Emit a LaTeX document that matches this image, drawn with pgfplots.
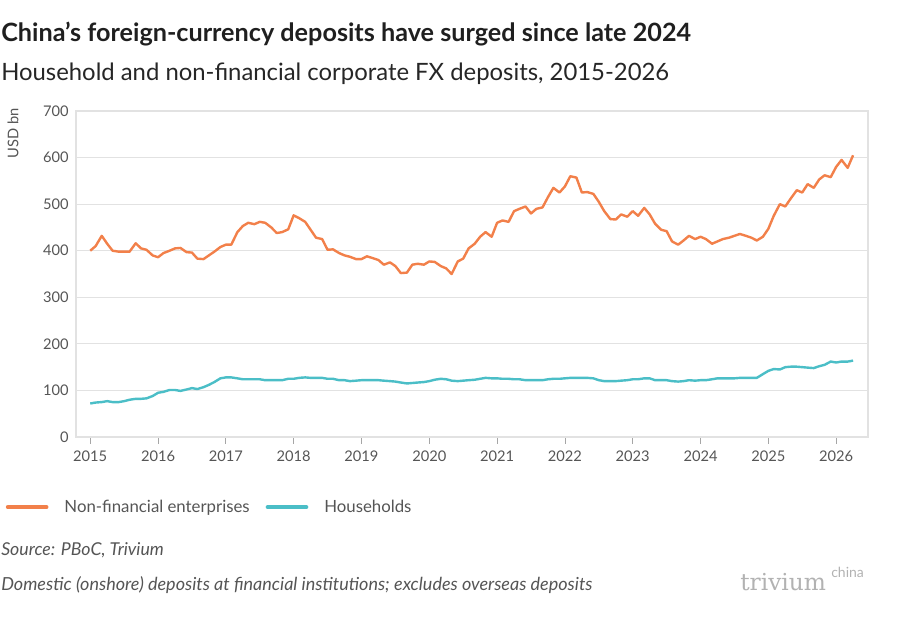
\documentclass[border=0pt]{standalone}
\usepackage{fontspec}
\setmainfont{Lato}
\newfontfamily\logofont{DejaVu Serif}
\usepackage{pgfplots}
\pgfplotsset{compat=1.18}
\definecolor{orng}{RGB}{242,128,74}
\definecolor{teal2}{RGB}{75,190,199}
\definecolor{gridc}{RGB}{226,226,226}
\definecolor{txt}{RGB}{85,85,85}
\begin{document}
\begin{tikzpicture}
\path[use as bounding box] (0,0) rectangle (677.25pt,-464.25pt);
\begin{scope}[x=0.75pt,y=-0.75pt]
\node[anchor=base west,inner sep=0,font=\bfseries\fontsize{18.9}{22}\selectfont,text=black!88] at (1,41) {China’s foreign-currency deposits have surged since late 2024};
\node[anchor=base west,inner sep=0,font=\fontsize{17.9}{21}\selectfont,text=black!85] at (1,80) {Household and non-financial corporate FX deposits, 2015-2026};
\node[rotate=90,anchor=center,inner sep=0,font=\fontsize{11}{13}\selectfont,text=txt] at (13,133) {USD bn};
\node[anchor=base west,inner sep=0,font=\itshape\fontsize{13.3}{15}\selectfont,text=txt] at (1,555) {Source: PBoC, Trivium};
\node[anchor=base west,inner sep=0,font=\itshape\fontsize{13.5}{15}\selectfont,text=txt] at (1,590) {Domestic (onshore) deposits at financial institutions; excludes overseas deposits};
\node[anchor=base west,inner sep=0,font=\logofont\fontsize{17.5}{20}\selectfont,text=black!30] at (740,590) {trivium};
\node[anchor=base west,inner sep=0,font=\fontsize{10.5}{12}\selectfont,text=black!30] at (831,577) {china};
\end{scope}
\begin{axis}[
  at={(57pt,-327.75pt)}, anchor=south west,
  scale only axis, width=594pt, height=244.5pt,
  xmin=2014.79, xmax=2026.47, ymin=0, ymax=700,
  xtick={2015,2016,...,2026}, ytick={0,100,...,700},
  xticklabel style={/pgf/number format/1000 sep={}},
  /pgf/number format/assume math mode=true,
  tick label style={font=\fontsize{11}{13}\selectfont, text=txt},
  ymajorgrids, grid style={gridc, line width=0.8pt},
  axis line style={gridc, line width=0.8pt},
  xtick style={draw=black!35, line width=0.6pt},
  ytick style={draw=none},
  xtick align=outside, major tick length=5pt,
  tick pos=left,
  xticklabel shift=2pt, yticklabel shift=2pt,
  legend style={at={(-0.094,-0.215)}, anchor=west, draw=none, fill=none,
    font=\fontsize{12.6}{15}\selectfont, text=txt, column sep=10pt},
  legend columns=2,
  legend image code/.code={\draw[#1, line width=3pt, line cap=round] (0pt,0pt) -- (29pt,0pt);},
]
\addplot[orng, line width=1.8pt, line join=round] coordinates {
(2015.00,400)(2015.08,410)(2015.17,432)(2015.25,415)(2015.33,400)(2015.42,398)(2015.50,398)(2015.58,398)(2015.67,416)(2015.75,405)(2015.83,402)(2015.92,390)
(2016.00,386)(2016.08,395)(2016.17,400)(2016.25,405)(2016.33,406)(2016.42,397)(2016.50,396)(2016.58,383)(2016.67,382)(2016.75,390)(2016.83,398)(2016.92,408)
(2017.00,413)(2017.08,413)(2017.17,440)(2017.25,453)(2017.33,460)(2017.42,457)(2017.50,462)(2017.58,460)(2017.67,450)(2017.75,438)(2017.83,440)(2017.92,446)
(2018.00,476)(2018.08,470)(2018.17,462)(2018.25,445)(2018.33,428)(2018.42,425)(2018.50,402)(2018.58,403)(2018.67,395)(2018.75,390)(2018.83,387)(2018.92,382)
(2019.00,382)(2019.08,388)(2019.17,384)(2019.25,380)(2019.33,370)(2019.42,375)(2019.50,367)(2019.58,352)(2019.67,353)(2019.75,370)(2019.83,372)(2019.92,370)
(2020.00,377)(2020.08,376)(2020.17,367)(2020.25,362)(2020.33,350)(2020.42,377)(2020.50,383)(2020.58,405)(2020.67,415)(2020.75,430)(2020.83,440)(2020.92,430)
(2021.00,460)(2021.08,465)(2021.17,462)(2021.25,485)(2021.33,490)(2021.42,495)(2021.50,480)(2021.58,490)(2021.67,493)(2021.75,515)(2021.83,535)(2021.92,525)
(2022.00,538)(2022.08,560)(2022.17,557)(2022.25,525)(2022.33,526)(2022.42,522)(2022.50,505)(2022.58,485)(2022.67,468)(2022.75,467)(2022.83,478)(2022.92,473)
(2023.00,485)(2023.08,475)(2023.17,492)(2023.25,478)(2023.33,458)(2023.42,445)(2023.50,442)(2023.58,420)(2023.67,413)(2023.75,422)(2023.83,432)(2023.92,425)
(2024.00,430)(2024.08,425)(2024.17,415)(2024.25,420)(2024.33,425)(2024.42,428)(2024.50,432)(2024.58,436)(2024.67,432)(2024.75,428)(2024.83,422)(2024.92,430)
(2025.00,447)(2025.08,475)(2025.17,500)(2025.25,495)(2025.33,512)(2025.42,530)(2025.50,525)(2025.58,543)(2025.67,535)(2025.75,553)(2025.83,562)(2025.92,558)
(2026.00,580)(2026.08,595)(2026.17,578)(2026.25,605)
};
\addlegendentry{Non-financial enterprises}
\addplot[teal2, line width=1.8pt, line join=round] coordinates {
(2015.00,72)(2015.08,74)(2015.17,75)(2015.25,77)(2015.33,75)(2015.42,75)(2015.50,77)(2015.58,80)(2015.67,82)(2015.75,82)(2015.83,83)(2015.92,88)
(2016.00,95)(2016.08,97)(2016.17,101)(2016.25,101)(2016.33,99)(2016.42,102)(2016.50,105)(2016.58,103)(2016.67,107)(2016.75,112)(2016.83,118)(2016.92,126)
(2017.00,128)(2017.08,128)(2017.17,126)(2017.25,124)(2017.33,124)(2017.42,124)(2017.50,124)(2017.58,122)(2017.67,122)(2017.75,122)(2017.83,122)(2017.92,125)
(2018.00,125)(2018.08,127)(2018.17,128)(2018.25,127)(2018.33,127)(2018.42,127)(2018.50,125)(2018.58,125)(2018.67,122)(2018.75,122)(2018.83,120)(2018.92,121)
(2019.00,122)(2019.08,122)(2019.17,122)(2019.25,122)(2019.33,121)(2019.42,120)(2019.50,119)(2019.58,117)(2019.67,115)(2019.75,116)(2019.83,117)(2019.92,118)
(2020.00,120)(2020.08,123)(2020.17,125)(2020.25,124)(2020.33,121)(2020.42,120)(2020.50,121)(2020.58,122)(2020.67,123)(2020.75,125)(2020.83,127)(2020.92,126)
(2021.00,126)(2021.08,125)(2021.17,125)(2021.25,124)(2021.33,124)(2021.42,122)(2021.50,122)(2021.58,122)(2021.67,122)(2021.75,124)(2021.83,125)(2021.92,125)
(2022.00,126)(2022.08,127)(2022.17,127)(2022.25,127)(2022.33,127)(2022.42,126)(2022.50,122)(2022.58,120)(2022.67,120)(2022.75,120)(2022.83,121)(2022.92,122)
(2023.00,124)(2023.08,124)(2023.17,126)(2023.25,126)(2023.33,122)(2023.42,122)(2023.50,122)(2023.58,120)(2023.67,119)(2023.75,120)(2023.83,122)(2023.92,121)
(2024.00,122)(2024.08,122)(2024.17,124)(2024.25,126)(2024.33,126)(2024.42,126)(2024.50,126)(2024.58,127)(2024.67,127)(2024.75,127)(2024.83,127)(2024.92,135)
(2025.00,142)(2025.08,146)(2025.17,145)(2025.25,150)(2025.33,151)(2025.42,151)(2025.50,150)(2025.58,149)(2025.67,148)(2025.75,152)(2025.83,155)(2025.92,162)
(2026.00,160)(2026.08,162)(2026.17,162)(2026.25,164)
};
\addlegendentry{Households}
\end{axis}
\end{tikzpicture}
\end{document}
